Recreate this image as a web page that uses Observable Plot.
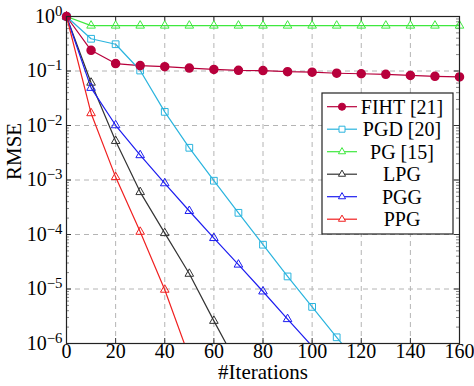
<!DOCTYPE html>
<html><head><meta charset="utf-8">
<script src="https://cdn.jsdelivr.net/npm/d3@7"></script>
<script src="https://cdn.jsdelivr.net/npm/@observablehq/plot@0.6"></script>
<style>body{margin:0;background:#fff}#chart{position:absolute;left:0;top:0}</style>
</head><body><div id="chart"></div>
<script>
const iterations = [0,10,20,30,40,50,60,70,80,90,100,110,120,130,140,150,160];
const seriesNames = ["FIHT [21]","PGD [20]","PG [15]","LPG","PGG","PPG"];
const seriesColors = ["#b8003c","#2ab4de","#3ee83e","#333333","#1c1cf0","#f02020"];
const seriesSymbols = ["circle","square","triangle","triangle","triangle","triangle"];
const fiht = [1,0.24,0.137,0.126,0.12,0.113,0.107,0.103,0.102,0.097,0.095,0.091,0.089,0.087,0.083,0.080,0.078];
const pgd  = [1,0.39,0.31,0.102,0.0178,0.0039,9.7e-4,2.5e-4,6.5e-5,1.7e-5,4.7e-6,1.3e-6,3.7e-7];
const pg   = [1,0.68,0.68,0.68,0.68,0.68,0.68,0.68,0.68,0.68,0.68,0.68,0.68,0.68,0.68,0.68,0.68];
const lpg  = [1,0.061,5.2e-3,6.0e-4,1.06e-4,1.9e-5,2.6e-6,3.8e-7];
const pgg  = [1,0.049,0.0101,2.85e-3,8.7e-4,2.7e-4,8.6e-5,2.8e-5,9.0e-6,2.8e-6,8.9e-7];
const ppg  = [1,0.0168,1.13e-3,1.12e-4,9.7e-6,5.6e-7];
const xTicks = [0,20,40,60,80,100,120,140,160];
const yTicks = [1e-6,1e-5,1e-4,1e-3,1e-2,1e-1,1];

const allSeries = [fiht,pgd,pg,lpg,pgg,ppg];
const rows = allSeries.flatMap((vals,i)=>vals.map((v,j)=>({x:iterations[j],y:v,name:seriesNames[i],sym:seriesSymbols[i]})));
const visible = rows.filter(d=>d.y>=1e-6);
const minorTicks = [];
for (let e=-6;e<0;e++) for (let m=2;m<=9;m++) minorTicks.push(m*Math.pow(10,e));

const W=474,H=386,mL=66,mR=15,mT=16,mB=43;
const pw=W-mL-mR, ph=H-mT-mB;
const font="'Liberation Serif', 'DejaVu Serif', serif";

const plot = Plot.plot({
  width:W,height:H,marginLeft:mL,marginRight:mR,marginTop:mT,marginBottom:mB,
  style:{fontFamily:font,fontSize:"20px",color:"#000",background:"#fff",overflow:"visible"},
  x:{domain:[0,160],label:null},
  y:{type:"log",domain:[1e-6,1],label:null},
  color:{domain:seriesNames,range:seriesColors},
  marks:[
    Plot.gridX(xTicks.slice(1,-1),{stroke:"#b4b4b4",strokeOpacity:1,strokeDasharray:"5,4"}),
    Plot.gridY(yTicks.slice(1,-1),{stroke:"#b4b4b4",strokeOpacity:1,strokeDasharray:"5,4"}),
    Plot.ruleY(minorTicks,{y:d=>d,insetRight:pw-3,stroke:"#555",strokeWidth:0.7}),
    Plot.ruleY(minorTicks,{y:d=>d,insetLeft:pw-3,stroke:"#555",strokeWidth:0.7}),
    Plot.ruleY(yTicks,{y:d=>d,insetRight:pw-5,stroke:"#333"}),
    Plot.ruleY(yTicks,{y:d=>d,insetLeft:pw-5,stroke:"#333"}),
    Plot.ruleX(xTicks,{x:d=>d,insetTop:ph-5,stroke:"#333"}),
    Plot.ruleX(xTicks,{x:d=>d,insetBottom:ph-5,stroke:"#333"}),
    Plot.line(rows,{x:"x",y:"y",z:"name",stroke:"name",strokeWidth:1.2,clip:true}),
    Plot.dot(visible.filter(d=>d.sym==="triangle"),{x:"x",y:"y",stroke:"name",symbol:"triangle",r:3.2,fill:"none",strokeWidth:1}),
    Plot.dot(visible.filter(d=>d.sym==="square"),{x:"x",y:"y",stroke:"name",symbol:"square",r:3.8,fill:"none",strokeWidth:1}),
    Plot.dot(visible.filter(d=>d.sym==="circle"),{x:"x",y:"y",fill:"name",stroke:"name",symbol:"circle",r:4}),
    Plot.frame({stroke:"#222",strokeWidth:1.2}),
    Plot.axisX(xTicks,{tickSize:0,tickPadding:0,fontSize:20,label:null}),
    Plot.axisY(yTicks,{tickSize:0,tickPadding:4,fontSize:20,label:null,tickFormat:d=>"10^"+Math.round(Math.log10(d))}),
    Plot.text(["#Iterations"],{frameAnchor:"bottom",dy:35.5,fontSize:21,fontFamily:font}),
    Plot.text(["RMSE"],{frameAnchor:"left",dx:-52,rotate:-90,fontSize:21,fontFamily:font})
  ]
});
document.getElementById("chart").appendChild(plot);

// superscript exponents on y tick labels
const svg = d3.select(plot.tagName.toLowerCase()==="svg"?plot:plot.querySelector("svg"));
svg.selectAll("text").each(function(){
  const t=this.textContent;
  if (/^10\^-?\d+$/.test(t)) {
    const e=t.split("^")[1].replace("-","\u2212");
    const sel=d3.select(this);
    sel.text("10");
    sel.append("tspan").attr("dy","-0.5em").attr("font-size","0.74em").text(e);
  }
});

// legend
const lg = svg.append("g").attr("font-family",font).attr("font-size",20);
lg.append("rect").attr("x",322).attr("y",93).attr("width",131).attr("height",141)
  .attr("fill","#fff").attr("stroke","#222").attr("stroke-width",1.2);
const symMap={circle:d3.symbolCircle,square:d3.symbolSquare,triangle:d3.symbolTriangle};
seriesNames.forEach((n,i)=>{
  const y=106.7+i*22.5;
  lg.append("line").attr("x1",327).attr("x2",357).attr("y1",y).attr("y2",y).attr("stroke",seriesColors[i]).attr("stroke-width",1.2);
  const s=seriesSymbols[i];
  lg.append("path").attr("transform",`translate(342,${y})`)
    .attr("d",d3.symbol(symMap[s], s==="circle"?40:(s==="square"?36:22))())
    .attr("fill",s==="circle"?seriesColors[i]:"#fff").attr("stroke",seriesColors[i]).attr("stroke-width",1);
  lg.append("text").attr("x",402).attr("y",y).attr("dy","0.35em").attr("text-anchor","middle").text(n);
});
</script></body></html>
